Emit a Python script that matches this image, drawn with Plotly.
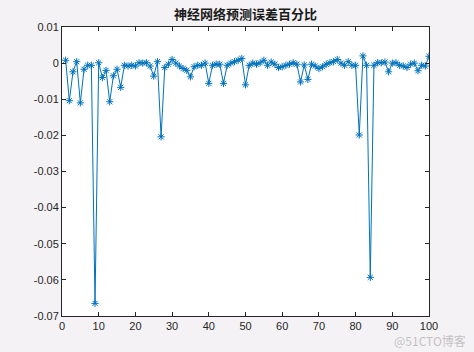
import plotly.graph_objects as go

x_vals = list(range(1, 101))
err_pct = [
    0.0008, -0.0104, -0.0024, 0.0004, -0.0110, -0.0017, -0.0006, -0.0006, -0.0665, 0.0001,
    -0.0040, -0.0020, -0.0107, -0.0035, -0.0017, -0.0067, -0.0006, -0.0008, -0.0006, -0.0008,
    0.0001, 0.0000, 0.0001, -0.0008, -0.0036, 0.0004, -0.0204, -0.0012, -0.0003, 0.0010,
    0.0000, -0.0008, -0.0015, -0.0020, -0.0038, -0.0010, -0.0006, -0.0006, 0.0000, -0.0056,
    -0.0006, -0.0003, -0.0003, -0.0056, -0.0006, 0.0000, 0.0004, 0.0008, 0.0013, -0.0060,
    -0.0006, 0.0000, -0.0003, 0.0001, 0.0008, -0.0006, 0.0003, -0.0003, -0.0012, -0.0010,
    -0.0006, -0.0003, 0.0001, -0.0003, -0.0052, -0.0005, -0.0045, -0.0003, -0.0008, -0.0015,
    -0.0010, -0.0003, 0.0001, 0.0004, 0.0010, 0.0000, -0.0006, 0.0004, -0.0006, -0.0006,
    -0.0199, 0.0020, -0.0006, -0.0593, -0.0006, 0.0001, 0.0001, 0.0003, -0.0024, 0.0000,
    0.0001, -0.0006, -0.0008, -0.0012, -0.0003, 0.0000, -0.0021, -0.0006, -0.0008, 0.0019,
]

x_ticks = [0, 10, 20, 30, 40, 50, 60, 70, 80, 90, 100]
x_tick_text = ["0", "10", "20", "30", "40", "50", "60", "70", "80", "90", "100"]
y_ticks = [0.01, 0, -0.01, -0.02, -0.03, -0.04, -0.05, -0.06, -0.07]
y_tick_text = ["0.01", "0", "-0.01", "-0.02", "-0.03", "-0.04", "-0.05", "-0.06", "-0.07"]
title_text = "神经网络预测误差百分比"
watermark = "@51CTO博客"

fig = go.Figure()
fig.add_trace(go.Scatter(
    x=x_vals, y=err_pct, mode="lines+markers",
    line=dict(color="#0072BD", width=1),
    marker=dict(symbol="asterisk-open", size=6, color="#0072BD",
                line=dict(color="#0072BD", width=1)),
    showlegend=False,
))

axis_common = dict(
    showline=True, linecolor="#262626", linewidth=1, mirror="ticks",
    ticks="inside", ticklen=4, tickcolor="#262626", showgrid=False, zeroline=False,
    tickfont=dict(family="Liberation Sans, Arial, sans-serif", size=11, color="#262626"),
)

fig.update_layout(
    width=474, height=352,
    margin=dict(l=62, r=45, t=27, b=36),
    paper_bgcolor="#f4f2f4", plot_bgcolor="#ffffff",
    title=dict(text="<b>" + title_text + "</b>", x=0.5, xref="paper", xanchor="center",
               y=1 - 14 / 352, yref="container", yanchor="middle",
               font=dict(family="Noto Sans CJK SC", size=13, color="#1a1a1a")),
    xaxis=dict(range=[0, 100], tickvals=x_ticks, ticktext=x_tick_text, **axis_common),
    yaxis=dict(range=[-0.07, 0.01], tickvals=y_ticks, ticktext=y_tick_text, **axis_common),
    annotations=[dict(text=watermark, xref="paper", yref="paper", x=1.105, y=-0.12,
                      xanchor="right", yanchor="bottom", showarrow=False,
                      font=dict(family="Noto Sans CJK SC", size=12, color="rgba(150,150,150,0.55)"))],
)

fig.write_html("out.html")
